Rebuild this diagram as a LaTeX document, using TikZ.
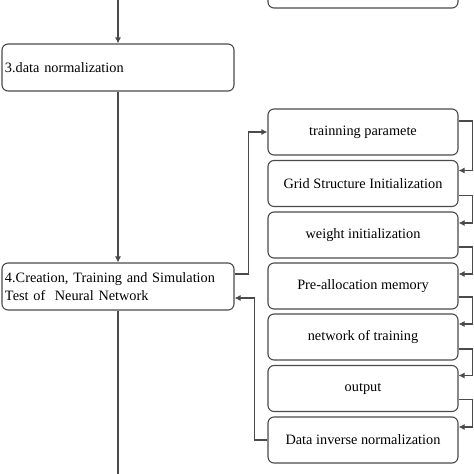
\documentclass[tikz,border=0pt]{standalone}
\usepackage{fontspec}
\setmainfont{Liberation Serif}
\usetikzlibrary{arrows.meta}
\definecolor{linegray}{HTML}{4A4A4A}
\newcommand{\boxfont}{\fontsize{14.3}{18}\selectfont}

\begin{document}
\begin{tikzpicture}[x=1pt,y=-1pt,
    mainbox/.style={draw=linegray, line width=1.1pt, rounded corners=6pt,
      minimum width=232pt, minimum height=47pt, text width=226pt,
      align=left, inner xsep=3pt, font=\boxfont},
    stepbox/.style={draw=linegray, line width=1.1pt, rounded corners=6pt,
      minimum width=190pt, minimum height=46pt, inner sep=0pt, font=\boxfont},
    link/.style={draw=linegray, line width=1.1pt},
    arr/.style={link, -{Latex[length=6pt,width=6pt]}}]

      \useasboundingbox (0,0) rectangle (474,474);
      \clip (0,0) rectangle (474,474);

      % main column on the left
      \node[mainbox] (norm) at (118,67.5) {3.data normalization};
      \node[mainbox] (nnet) at (118,286.5)
        {4.Creation, Training and Simulation\\Test of \ Neural Network};
      \coordinate (top) at (118,0);
      \coordinate (bottom) at (118,474);

      % steps on the right
      \node[stepbox] (prev) at (363,-15) {};
      \node[stepbox] (para) at (363,132) {trainning paramete};
      \node[stepbox] (grid) at (363,183.5) {Grid Structure Initialization};
      \node[stepbox] (weig) at (363,235) {weight initialization};
      \node[stepbox] (mem)  at (363,286) {Pre-allocation memory};
      \node[stepbox] (train) at (363,337) {network of training};
      \node[stepbox] (outp) at (363,388.5) {output};
      \node[stepbox] (inv)  at (363,440) {Data inverse normalization};

      % main flow
      \draw[arr] (top) -- (norm.north);
      \draw[arr] (norm) -- (nnet);
      \draw[link] (nnet.south) -- (bottom);

      % out to the steps and back
      \draw[arr] ([yshift=12.5pt]nnet.east) -- ++(14,0) |- (para.west);
      \draw[arr] (inv.west) -- ++(-13,0) |- ([yshift=-11.5pt]nnet.east);

      % step to step on the right edge
      \draw[arr] ([yshift=11pt]para.east) -- ++(14,0) |- ([yshift=13pt]grid.east);
      \draw[arr] ([yshift=-12pt]grid.east) -- ++(14,0) |- ([yshift=12pt]weig.east);
      \draw[arr] ([yshift=-12pt]weig.east) -- ++(14,0) |- ([yshift=12pt]mem.east);
      \draw[arr] ([yshift=-11pt]mem.east) -- ++(14,0) |- ([yshift=13pt]train.east);
      \draw[arr] ([yshift=-12pt]train.east) -- ++(14,0) |- ([yshift=13pt]outp.east);
      \draw[arr] ([yshift=-11pt]outp.east) -- ++(14,0) |- ([yshift=13pt]inv.east);

    \end{tikzpicture}
\end{document}
